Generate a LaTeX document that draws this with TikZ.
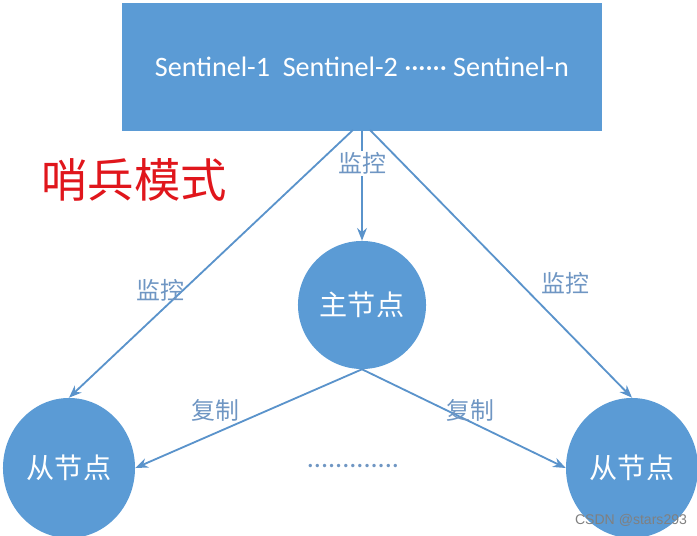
\documentclass[tikz,border=0pt]{standalone}
\usepackage{fontspec}
\setmainfont{Carlito}
\newfontfamily\cjk{Noto Sans CJK SC}
\newfontfamily\wmfont{Liberation Sans}
\usetikzlibrary{arrows.meta,positioning,shapes}
\definecolor{nodeblue}{HTML}{5B9BD5}
\definecolor{lineblue}{HTML}{5A93CB}
\definecolor{lblblue}{HTML}{6F96C3}
\definecolor{titlered}{HTML}{E0161C}

\begin{document}
\begin{tikzpicture}[x=0.025cm,y=0.025cm,
  every node/.style={inner sep=1pt},
  blob/.style={ellipse,fill=nodeblue,text=white,font=\cjk\fontsize{20}{24}\selectfont},
  arr/.style={draw=lineblue,line width=1.3pt,-{Stealth[length=9pt,width=7pt]}},
  lbl/.style={text=lblblue,font=\cjk\fontsize{17}{20}\selectfont}]

  \useasboundingbox (0,0) rectangle (697,536);

  % Sentinel group
  \node[fill=nodeblue,text=white,minimum width=12cm,minimum height=3.175cm,
    font=\fontsize{20}{24}\selectfont] (sen) at (362,469)
    {Sentinel-1\ \ Sentinel-2 ······ Sentinel-n};
  \node[text=titlered,font=\cjk\fontsize{33}{38}\selectfont] (title) at (134,356) {哨兵模式};

  % Master and slaves
  \node[blob,minimum width=3.2cm,minimum height=3.2cm] (master) at (362,231) {主节点};
  \node[blob,minimum width=3.3cm,minimum height=3.5cm] (slaveL) at (69,68) {从节点};
  \node[blob,minimum width=3.3cm,minimum height=3.5cm] (slaveR) at (632,68) {从节点};
  \node[text=lblblue,font=\fontsize{20}{24}\selectfont] (dots) at (353,70) {.............};

  % Monitoring
  \coordinate (monL) at (353,406);
  \coordinate (monR) at (370,406);
  \draw[arr] (sen.south) -- (master.north)
    node[lbl,pos=0.3,fill=white] (lblM) {监控};
  \draw[arr] (monL) -- (slaveL.north);
  \draw[arr] (monR) -- (slaveR.north);
  \node[lbl] (lblL) at (160,246) {监控};
  \node[lbl] (lblR) at (565,253) {监控};

  % Replication
  \draw[arr] (master.south) -- (slaveL.east);
  \draw[arr] (master.south) -- (slaveR.west);
  \node[lbl] (cpL) at (215,126) {复制};
  \node[lbl] (cpR) at (470,126) {复制};

  \node[text=gray,font=\wmfont\fontsize{10}{12}\selectfont] (wm) at (631,16) {CSDN @stars293};
\end{tikzpicture}
\end{document}
